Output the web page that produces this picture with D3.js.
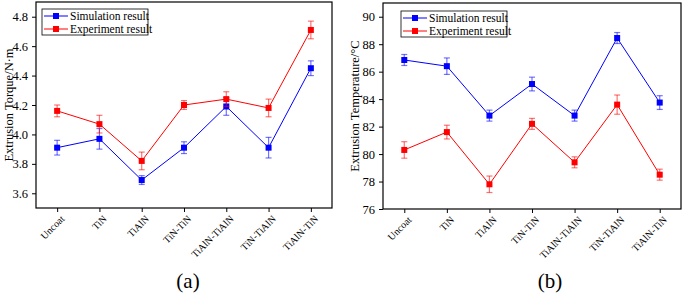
<!DOCTYPE html>
<html>
<head>
<meta charset="utf-8">
<script src="https://cdn.jsdelivr.net/npm/d3@7"></script>
<style>
  body { margin: 0; background: #fff; }
  svg, svg text { font-family: "Liberation Serif", "Times New Roman", "DejaVu Serif", serif !important; }
</style>
</head>
<body>
<div id="chart"></div>
<script>
// --- data ---
const categories = ["Uncoat", "TiN", "TiAlN", "TiN-TiN", "TiAlN-TiAlN", "TiN-TiAlN", "TiAlN-TiN"];

const torqueSim = [3.91, 3.97, 3.69, 3.91, 4.19, 3.91, 4.45];
const torqueSimErr = [0.05, 0.07, 0.03, 0.04, 0.06, 0.07, 0.05];
const torqueExp = [4.16, 4.07, 3.82, 4.20, 4.24, 4.18, 4.71];
const torqueExpErr = [0.04, 0.06, 0.06, 0.03, 0.05, 0.06, 0.06];
const torqueTicks = [3.6, 3.8, 4.0, 4.2, 4.4, 4.6, 4.8];

const tempSim = [86.85, 86.4, 82.8, 85.1, 82.8, 88.45, 83.75];
const tempSimErr = [0.4, 0.6, 0.4, 0.5, 0.4, 0.4, 0.5];
const tempExp = [80.3, 81.6, 77.8, 82.2, 79.4, 83.6, 78.5];
const tempExpErr = [0.6, 0.5, 0.6, 0.4, 0.4, 0.7, 0.4];
const tempTicks = [76, 78, 80, 82, 84, 86, 88, 90];

const seriesNames = ["Simulation result", "Experiment result"];
const seriesColors = ["#0000ff", "#ff0000"];

const svg = d3.select("#chart").append("svg")
    .attr("width", 685)
    .attr("height", 295);

function drawPanel(opts) {
    const g = svg.append("g");
    const x = d3.scaleLinear().domain([-0.5, categories.length - 0.5]).range([opts.left, opts.right]);
    const y = d3.scaleLinear().domain(opts.domain).range([opts.bottom, opts.top]);

    // frame
    g.append("rect")
        .attr("x", opts.left).attr("y", opts.top)
        .attr("width", opts.right - opts.left).attr("height", opts.bottom - opts.top)
        .attr("fill", "none").attr("stroke", "#000").attr("stroke-width", 1.2);

    // y axis
    const yAxis = d3.axisLeft(y).tickValues(opts.ticks).tickSize(4).tickFormat(opts.fmt);
    const ya = g.append("g").attr("transform", `translate(${opts.left},0)`).call(yAxis);
    ya.attr("font-family", null);
    ya.select(".domain").remove();
    ya.selectAll("text").attr("font-size", 12.5).attr("fill", "#000").attr("dx", -1);

    // x axis
    const xAxis = d3.axisBottom(x).tickValues(d3.range(categories.length)).tickSize(4).tickFormat(i => categories[i]);
    const xa = g.append("g").attr("transform", `translate(0,${opts.bottom})`).call(xAxis);
    xa.attr("font-family", null);
    xa.select(".domain").remove();
    xa.selectAll("text")
        .attr("font-size", 10).attr("fill", "#000")
        .attr("text-anchor", "end")
        .attr("transform", "translate(5,9) rotate(-45)")
        .attr("y", 0).attr("dy", "0.35em");

    // y label
    g.append("text")
        .attr("transform", `translate(${opts.labelX},${(opts.top + opts.bottom) / 2}) rotate(-90)`)
        .attr("text-anchor", "middle").attr("dy", "0.35em")
        .attr("font-size", 12.5).text(opts.ylabel);

    // series
    const series = [
        { vals: opts.sim, err: opts.simErr },
        { vals: opts.exp, err: opts.expErr }
    ];
    series.forEach((s, k) => {
        const col = seriesColors[k];
        const line = d3.line().x((d, i) => x(i)).y(d => y(d));
        g.append("path").datum(s.vals).attr("d", line)
            .attr("fill", "none").attr("stroke", col).attr("stroke-width", 1);
        const eb = g.append("g").attr("stroke", col).attr("stroke-opacity", 0.55).attr("stroke-width", 1.2);
        s.vals.forEach((v, i) => {
            const lo = y(v - s.err[i]), hi = y(v + s.err[i]);
            eb.append("line").attr("x1", x(i)).attr("x2", x(i)).attr("y1", lo).attr("y2", hi);
            eb.append("line").attr("x1", x(i) - 3).attr("x2", x(i) + 3).attr("y1", lo).attr("y2", lo);
            eb.append("line").attr("x1", x(i) - 3).attr("x2", x(i) + 3).attr("y1", hi).attr("y2", hi);
        });
        g.selectAll(null).data(s.vals).enter().append("rect")
            .attr("x", (d, i) => x(i) - 3).attr("y", d => y(d) - 3)
            .attr("width", 6).attr("height", 6).attr("fill", col);
    });

    // legend
    const L = opts.legend;
    g.append("rect").attr("x", L.x).attr("y", L.y).attr("width", L.w).attr("height", 26)
        .attr("fill", "#fff").attr("stroke", "#000").attr("stroke-width", 0.8);
    seriesNames.forEach((name, k) => {
        const ly = L.y + 7 + k * 13;
        g.append("line").attr("x1", L.x + 2).attr("x2", L.x + 26).attr("y1", ly).attr("y2", ly)
            .attr("stroke", seriesColors[k]).attr("stroke-width", 1);
        g.append("rect").attr("x", L.x + 11).attr("y", ly - 3).attr("width", 6).attr("height", 6)
            .attr("fill", seriesColors[k]);
        g.append("text").attr("x", L.x + 28).attr("y", ly).attr("dy", "0.35em")
            .attr("font-size", 11.5).text(name);
    });

    // panel tag
    g.append("text").attr("x", opts.tagX).attr("y", 288)
        .attr("text-anchor", "middle").attr("font-size", 21).text(opts.tag);
}

drawPanel({
    left: 36, right: 332, top: 2, bottom: 208,
    domain: [3.5, 4.9], ticks: torqueTicks, fmt: d3.format(".1f"),
    sim: torqueSim, simErr: torqueSimErr, exp: torqueExp, expErr: torqueExpErr,
    ylabel: "Extrusion Torque/N\u00b7m", labelX: 9,
    legend: { x: 42, y: 9, w: 106 },
    tag: "(a)", tagX: 188
});

drawPanel({
    left: 383, right: 681, top: 3, bottom: 209,
    domain: [76, 91], ticks: tempTicks, fmt: d3.format("d"),
    sim: tempSim, simErr: tempSimErr, exp: tempExp, expErr: tempExpErr,
    ylabel: "Extrusion Temperature/\u00b0C", labelX: 355,
    legend: { x: 401, y: 11, w: 106 },
    tag: "(b)", tagX: 550
});
</script>
</body>
</html>
